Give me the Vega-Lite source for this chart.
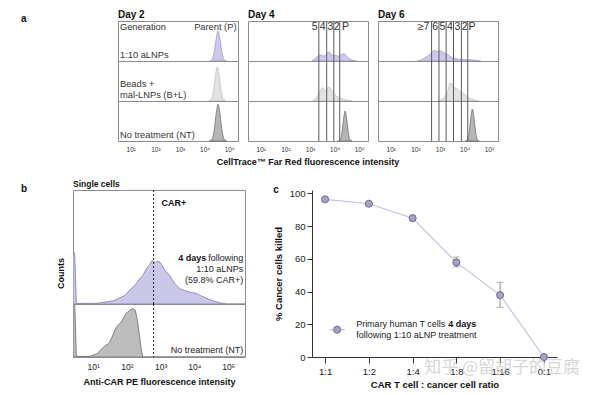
{
  "$schema": "https://vega.github.io/schema/vega-lite/v6.json",
  "padding": {"left": 21, "top": 10, "right": 0, "bottom": 0},
  "background": "white",
  "config": {
    "font": "Liberation Sans",
    "view": {"stroke": "#8c8c8c", "strokeWidth": 1},
    "axis": {"labelColor": "#222", "titleColor": "#111", "domainColor": "#333", "tickColor": "#333", "grid": false, "labelOverlap": false},
    "title": {"color": "#111"},
    "header": {"labelFont": "Liberation Sans", "titleFont": "Liberation Sans"}
  },
  "datasets": {
    "gen": [
      {"day":"Day 2","trt":"aLNP","kind":"hist","v":4.20,"n":0},
      {"day":"Day 2","trt":"aLNP","kind":"hist","v":4.31,"n":0.04},
      {"day":"Day 2","trt":"aLNP","kind":"hist","v":4.39,"n":0.21},
      {"day":"Day 2","trt":"aLNP","kind":"hist","v":4.47,"n":0.54},
      {"day":"Day 2","trt":"aLNP","kind":"hist","v":4.55,"n":0.75},
      {"day":"Day 2","trt":"aLNP","kind":"hist","v":4.63,"n":0.54},
      {"day":"Day 2","trt":"aLNP","kind":"hist","v":4.71,"n":0.21},
      {"day":"Day 2","trt":"aLNP","kind":"hist","v":4.79,"n":0.04},
      {"day":"Day 2","trt":"aLNP","kind":"hist","v":4.90,"n":0},
      {"day":"Day 2","trt":"Beads","kind":"hist","v":4.17,"n":0},
      {"day":"Day 2","trt":"Beads","kind":"hist","v":4.28,"n":0.05},
      {"day":"Day 2","trt":"Beads","kind":"hist","v":4.36,"n":0.24},
      {"day":"Day 2","trt":"Beads","kind":"hist","v":4.44,"n":0.62},
      {"day":"Day 2","trt":"Beads","kind":"hist","v":4.52,"n":0.85},
      {"day":"Day 2","trt":"Beads","kind":"hist","v":4.60,"n":0.62},
      {"day":"Day 2","trt":"Beads","kind":"hist","v":4.68,"n":0.24},
      {"day":"Day 2","trt":"Beads","kind":"hist","v":4.76,"n":0.05},
      {"day":"Day 2","trt":"Beads","kind":"hist","v":4.87,"n":0},
      {"day":"Day 2","trt":"NT","kind":"hist","v":4.20,"n":0},
      {"day":"Day 2","trt":"NT","kind":"hist","v":4.31,"n":0.05},
      {"day":"Day 2","trt":"NT","kind":"hist","v":4.39,"n":0.26},
      {"day":"Day 2","trt":"NT","kind":"hist","v":4.47,"n":0.67},
      {"day":"Day 2","trt":"NT","kind":"hist","v":4.55,"n":0.92},
      {"day":"Day 2","trt":"NT","kind":"hist","v":4.63,"n":0.67},
      {"day":"Day 2","trt":"NT","kind":"hist","v":4.71,"n":0.26},
      {"day":"Day 2","trt":"NT","kind":"hist","v":4.79,"n":0.05},
      {"day":"Day 2","trt":"NT","kind":"hist","v":4.90,"n":0},
      {"day":"Day 4","trt":"aLNP","kind":"hist","v":3.08,"n":0},
      {"day":"Day 4","trt":"aLNP","kind":"hist","v":3.22,"n":0.07},
      {"day":"Day 4","trt":"aLNP","kind":"hist","v":3.34,"n":0.13},
      {"day":"Day 4","trt":"aLNP","kind":"hist","v":3.44,"n":0.15},
      {"day":"Day 4","trt":"aLNP","kind":"hist","v":3.58,"n":0.12},
      {"day":"Day 4","trt":"aLNP","kind":"hist","v":3.72,"n":0.21},
      {"day":"Day 4","trt":"aLNP","kind":"hist","v":3.79,"n":0.22},
      {"day":"Day 4","trt":"aLNP","kind":"hist","v":3.92,"n":0.14},
      {"day":"Day 4","trt":"aLNP","kind":"hist","v":4.04,"n":0.14},
      {"day":"Day 4","trt":"aLNP","kind":"hist","v":4.14,"n":0.12},
      {"day":"Day 4","trt":"aLNP","kind":"hist","v":4.28,"n":0.16},
      {"day":"Day 4","trt":"aLNP","kind":"hist","v":4.38,"n":0.18},
      {"day":"Day 4","trt":"aLNP","kind":"hist","v":4.52,"n":0.10},
      {"day":"Day 4","trt":"aLNP","kind":"hist","v":4.68,"n":0.03},
      {"day":"Day 4","trt":"aLNP","kind":"hist","v":4.90,"n":0},
      {"day":"Day 4","trt":"Beads","kind":"hist","v":3.10,"n":0},
      {"day":"Day 4","trt":"Beads","kind":"hist","v":3.28,"n":0.10},
      {"day":"Day 4","trt":"Beads","kind":"hist","v":3.44,"n":0.29},
      {"day":"Day 4","trt":"Beads","kind":"hist","v":3.53,"n":0.33},
      {"day":"Day 4","trt":"Beads","kind":"hist","v":3.64,"n":0.25},
      {"day":"Day 4","trt":"Beads","kind":"hist","v":3.76,"n":0.35},
      {"day":"Day 4","trt":"Beads","kind":"hist","v":3.90,"n":0.25},
      {"day":"Day 4","trt":"Beads","kind":"hist","v":4.04,"n":0.14},
      {"day":"Day 4","trt":"Beads","kind":"hist","v":4.25,"n":0.07},
      {"day":"Day 4","trt":"Beads","kind":"hist","v":4.50,"n":0.02},
      {"day":"Day 4","trt":"Beads","kind":"hist","v":4.72,"n":0},
      {"day":"Day 4","trt":"NT","kind":"hist","v":4.15,"n":0},
      {"day":"Day 4","trt":"NT","kind":"hist","v":4.24,"n":0.04},
      {"day":"Day 4","trt":"NT","kind":"hist","v":4.30,"n":0.21},
      {"day":"Day 4","trt":"NT","kind":"hist","v":4.365,"n":0.54},
      {"day":"Day 4","trt":"NT","kind":"hist","v":4.43,"n":0.75},
      {"day":"Day 4","trt":"NT","kind":"hist","v":4.495,"n":0.54},
      {"day":"Day 4","trt":"NT","kind":"hist","v":4.56,"n":0.21},
      {"day":"Day 4","trt":"NT","kind":"hist","v":4.62,"n":0.04},
      {"day":"Day 4","trt":"NT","kind":"hist","v":4.71,"n":0},
      {"day":"Day 6","trt":"aLNP","kind":"hist","v":2.08,"n":0},
      {"day":"Day 6","trt":"aLNP","kind":"hist","v":2.28,"n":0.04},
      {"day":"Day 6","trt":"aLNP","kind":"hist","v":2.49,"n":0.12},
      {"day":"Day 6","trt":"aLNP","kind":"hist","v":2.62,"n":0.18},
      {"day":"Day 6","trt":"aLNP","kind":"hist","v":2.76,"n":0.27},
      {"day":"Day 6","trt":"aLNP","kind":"hist","v":2.90,"n":0.23},
      {"day":"Day 6","trt":"aLNP","kind":"hist","v":3.03,"n":0.25},
      {"day":"Day 6","trt":"aLNP","kind":"hist","v":3.17,"n":0.20},
      {"day":"Day 6","trt":"aLNP","kind":"hist","v":3.33,"n":0.15},
      {"day":"Day 6","trt":"aLNP","kind":"hist","v":3.51,"n":0.08},
      {"day":"Day 6","trt":"aLNP","kind":"hist","v":3.71,"n":0.05},
      {"day":"Day 6","trt":"aLNP","kind":"hist","v":3.98,"n":0.035},
      {"day":"Day 6","trt":"aLNP","kind":"hist","v":4.32,"n":0.025},
      {"day":"Day 6","trt":"aLNP","kind":"hist","v":4.66,"n":0},
      {"day":"Day 6","trt":"Beads","kind":"hist","v":2.90,"n":0},
      {"day":"Day 6","trt":"Beads","kind":"hist","v":3.17,"n":0.08},
      {"day":"Day 6","trt":"Beads","kind":"hist","v":3.30,"n":0.23},
      {"day":"Day 6","trt":"Beads","kind":"hist","v":3.44,"n":0.46},
      {"day":"Day 6","trt":"Beads","kind":"hist","v":3.55,"n":0.33},
      {"day":"Day 6","trt":"Beads","kind":"hist","v":3.67,"n":0.32},
      {"day":"Day 6","trt":"Beads","kind":"hist","v":3.80,"n":0.25},
      {"day":"Day 6","trt":"Beads","kind":"hist","v":3.98,"n":0.17},
      {"day":"Day 6","trt":"Beads","kind":"hist","v":4.18,"n":0.08},
      {"day":"Day 6","trt":"Beads","kind":"hist","v":4.38,"n":0.03},
      {"day":"Day 6","trt":"Beads","kind":"hist","v":4.58,"n":0},
      {"day":"Day 6","trt":"NT","kind":"hist","v":4.04,"n":0},
      {"day":"Day 6","trt":"NT","kind":"hist","v":4.13,"n":0.045},
      {"day":"Day 6","trt":"NT","kind":"hist","v":4.19,"n":0.22},
      {"day":"Day 6","trt":"NT","kind":"hist","v":4.255,"n":0.58},
      {"day":"Day 6","trt":"NT","kind":"hist","v":4.32,"n":0.80},
      {"day":"Day 6","trt":"NT","kind":"hist","v":4.385,"n":0.58},
      {"day":"Day 6","trt":"NT","kind":"hist","v":4.45,"n":0.22},
      {"day":"Day 6","trt":"NT","kind":"hist","v":4.51,"n":0.045},
      {"day":"Day 6","trt":"NT","kind":"hist","v":4.60,"n":0},
      {"day":"Day 4","trt":"aLNP","kind":"gate","v":3.36},
      {"day":"Day 4","trt":"aLNP","kind":"gate","v":3.68},
      {"day":"Day 4","trt":"aLNP","kind":"gate","v":3.97},
      {"day":"Day 4","trt":"aLNP","kind":"gate","v":4.21},
      {"day":"Day 4","trt":"Beads","kind":"gate","v":3.36},
      {"day":"Day 4","trt":"Beads","kind":"gate","v":3.68},
      {"day":"Day 4","trt":"Beads","kind":"gate","v":3.97},
      {"day":"Day 4","trt":"Beads","kind":"gate","v":4.21},
      {"day":"Day 4","trt":"NT","kind":"gate","v":3.36},
      {"day":"Day 4","trt":"NT","kind":"gate","v":3.68},
      {"day":"Day 4","trt":"NT","kind":"gate","v":3.97},
      {"day":"Day 4","trt":"NT","kind":"gate","v":4.21},
      {"day":"Day 6","trt":"aLNP","kind":"gate","v":2.66},
      {"day":"Day 6","trt":"aLNP","kind":"gate","v":2.96},
      {"day":"Day 6","trt":"aLNP","kind":"gate","v":3.25},
      {"day":"Day 6","trt":"aLNP","kind":"gate","v":3.55},
      {"day":"Day 6","trt":"aLNP","kind":"gate","v":3.87},
      {"day":"Day 6","trt":"aLNP","kind":"gate","v":4.13},
      {"day":"Day 6","trt":"Beads","kind":"gate","v":2.66},
      {"day":"Day 6","trt":"Beads","kind":"gate","v":2.96},
      {"day":"Day 6","trt":"Beads","kind":"gate","v":3.25},
      {"day":"Day 6","trt":"Beads","kind":"gate","v":3.55},
      {"day":"Day 6","trt":"Beads","kind":"gate","v":3.87},
      {"day":"Day 6","trt":"Beads","kind":"gate","v":4.13},
      {"day":"Day 6","trt":"NT","kind":"gate","v":2.66},
      {"day":"Day 6","trt":"NT","kind":"gate","v":2.96},
      {"day":"Day 6","trt":"NT","kind":"gate","v":3.25},
      {"day":"Day 6","trt":"NT","kind":"gate","v":3.55},
      {"day":"Day 6","trt":"NT","kind":"gate","v":3.87},
      {"day":"Day 6","trt":"NT","kind":"gate","v":4.13},
      {"day":"Day 4","trt":"aLNP","kind":"gen","v":3.19,"s":"5"},
      {"day":"Day 4","trt":"aLNP","kind":"gen","v":3.52,"s":"4"},
      {"day":"Day 4","trt":"aLNP","kind":"gen","v":3.83,"s":"3"},
      {"day":"Day 4","trt":"aLNP","kind":"gen","v":4.09,"s":"2"},
      {"day":"Day 4","trt":"aLNP","kind":"gen","v":4.44,"s":"P"},
      {"day":"Day 6","trt":"aLNP","kind":"gen","v":2.33,"s":"≥7"},
      {"day":"Day 6","trt":"aLNP","kind":"gen","v":2.81,"s":"6"},
      {"day":"Day 6","trt":"aLNP","kind":"gen","v":3.10,"s":"5"},
      {"day":"Day 6","trt":"aLNP","kind":"gen","v":3.40,"s":"4"},
      {"day":"Day 6","trt":"aLNP","kind":"gen","v":3.71,"s":"3"},
      {"day":"Day 6","trt":"aLNP","kind":"gen","v":4.00,"s":"2"},
      {"day":"Day 6","trt":"aLNP","kind":"gen","v":4.30,"s":"P"},
      {"day":"Day 2","trt":"aLNP","kind":"note","s":"Generation"},
      {"day":"Day 2","trt":"aLNP","kind":"note","s":"Parent (P)"},
      {"day":"Day 2","trt":"aLNP","kind":"note","s":"1:10 aLNPs"},
      {"day":"Day 2","trt":"Beads","kind":"note","s":"Beads +\nmal-LNPs (B+L)"},
      {"day":"Day 2","trt":"NT","kind":"note","s":"No treatment (NT)"}
    ],
    "car": [
      {"sample":"1:10 aLNPs","lx":0.40,"count":1178},
      {"sample":"1:10 aLNPs","lx":0.45,"count":1178},
      {"sample":"1:10 aLNPs","lx":0.50,"count":12},
      {"sample":"1:10 aLNPs","lx":1.11,"count":16},
      {"sample":"1:10 aLNPs","lx":1.61,"count":76},
      {"sample":"1:10 aLNPs","lx":1.92,"count":192},
      {"sample":"1:10 aLNPs","lx":2.12,"count":347},
      {"sample":"1:10 aLNPs","lx":2.27,"count":462},
      {"sample":"1:10 aLNPs","lx":2.37,"count":578},
      {"sample":"1:10 aLNPs","lx":2.47,"count":654},
      {"sample":"1:10 aLNPs","lx":2.57,"count":809},
      {"sample":"1:10 aLNPs","lx":2.67,"count":908},
      {"sample":"1:10 aLNPs","lx":2.74,"count":1000},
      {"sample":"1:10 aLNPs","lx":2.84,"count":963},
      {"sample":"1:10 aLNPs","lx":2.95,"count":986},
      {"sample":"1:10 aLNPs","lx":3.03,"count":908},
      {"sample":"1:10 aLNPs","lx":3.13,"count":769},
      {"sample":"1:10 aLNPs","lx":3.23,"count":693},
      {"sample":"1:10 aLNPs","lx":3.33,"count":578},
      {"sample":"1:10 aLNPs","lx":3.43,"count":462},
      {"sample":"1:10 aLNPs","lx":3.58,"count":347},
      {"sample":"1:10 aLNPs","lx":3.73,"count":307},
      {"sample":"1:10 aLNPs","lx":3.88,"count":270},
      {"sample":"1:10 aLNPs","lx":4.04,"count":247},
      {"sample":"1:10 aLNPs","lx":4.19,"count":192},
      {"sample":"1:10 aLNPs","lx":4.34,"count":139},
      {"sample":"1:10 aLNPs","lx":4.54,"count":76},
      {"sample":"1:10 aLNPs","lx":4.74,"count":30},
      {"sample":"1:10 aLNPs","lx":4.95,"count":0},
      {"sample":"1:10 aLNPs","lx":5.50,"count":0},
      {"sample":"NT","lx":0.40,"count":1300},
      {"sample":"NT","lx":0.45,"count":1300},
      {"sample":"NT","lx":0.50,"count":10},
      {"sample":"NT","lx":0.91,"count":16},
      {"sample":"NT","lx":1.11,"count":76},
      {"sample":"NT","lx":1.26,"count":192},
      {"sample":"NT","lx":1.36,"count":270},
      {"sample":"NT","lx":1.46,"count":307},
      {"sample":"NT","lx":1.56,"count":462},
      {"sample":"NT","lx":1.66,"count":654},
      {"sample":"NT","lx":1.73,"count":732},
      {"sample":"NT","lx":1.81,"count":792},
      {"sample":"NT","lx":1.89,"count":885},
      {"sample":"NT","lx":1.97,"count":1000},
      {"sample":"NT","lx":2.04,"count":1056},
      {"sample":"NT","lx":2.12,"count":1102},
      {"sample":"NT","lx":2.19,"count":1116},
      {"sample":"NT","lx":2.25,"count":1079},
      {"sample":"NT","lx":2.30,"count":885},
      {"sample":"NT","lx":2.37,"count":501},
      {"sample":"NT","lx":2.42,"count":192},
      {"sample":"NT","lx":2.47,"count":0},
      {"sample":"NT","lx":5.50,"count":0}
    ],
    "kill": [
      {"ratio":"1:1","pct":96.3,"lo":95.8,"hi":96.8},
      {"ratio":"1:2","pct":93.6,"lo":93.1,"hi":94.1},
      {"ratio":"1:4","pct":84.8,"lo":84.3,"hi":85.3},
      {"ratio":"1:8","pct":57.8,"lo":55,"hi":61},
      {"ratio":"1:16","pct":37.8,"lo":30.4,"hi":45.6},
      {"ratio":"0:1","pct":0,"lo":0,"hi":0.3}
    ]
  },
  "columns": 1,
  "spacing": 12,
  "concat": [
    {
      "spacing": 90,
      "hconcat": [
        {
          "width": 2, "height": 2,
          "view": {"stroke": null},
          "data": {"values": [{}]},
          "mark": {"type": "text", "text": ""},
          "title": {"text": "a", "anchor": "start", "fontSize": 10, "fontWeight": "bold", "offset": 0, "dy": 8}
        },
        {
          "data": {"name": "gen"},
          "bounds": "flush",
          "facet": {
            "column": {"field": "day", "type": "nominal", "title": "CellTrace™ Far Red fluorescence intensity",
              "header": {"labelOrient": "top", "labelAnchor": "start", "labelFontSize": 10, "labelFontWeight": "bold", "labelColor": "#111", "labelPadding": 1,
                         "titleOrient": "bottom", "titleFontSize": 9, "titleFontWeight": "bold", "titleColor": "#111", "titlePadding": -5}},
            "row": {"field": "trt", "type": "nominal", "sort": ["aLNP", "Beads", "NT"], "title": null,
              "header": {"labels": false}}
          },
          "spacing": {"row": 0, "column": 10},
          "spec": {
            "width": 120,
            "height": 40,
            "layer": [
              {
                "transform": [{"filter": "datum.kind === 'hist'"}],
                "mark": {"type": "area", "interpolate": "monotone", "strokeWidth": 0.8},
                "encoding": {
                  "x": {"field": "v", "type": "quantitative", "title": null,
                        "scale": {"domain": [0.48, 5.36], "nice": false, "zero": false},
                        "axis": {"values": [1, 2, 3, 4, 5], "tickCount": 10, "labelExpr": "'10' + ['⁰','¹','²','³','⁴','⁵'][datum.value]", "labelFontSize": 6.5, "labelColor": "#333", "ticks": false, "domain": false, "labelPadding": 5, "title": null}},
                  "y": {"field": "n", "type": "quantitative", "scale": {"domain": [0, 1], "nice": false}, "axis": null},
                  "fill": {"field": "trt", "type": "nominal", "scale": {"domain": ["aLNP", "Beads", "NT"], "range": ["#cdc9ea", "#e2e2e2", "#b5b5b5"]}, "legend": null},
                  "stroke": {"field": "trt", "type": "nominal", "scale": {"domain": ["aLNP", "Beads", "NT"], "range": ["#a29ccc", "#c2c2c2", "#707070"]}, "legend": null}
                }
              },
              {
                "transform": [{"filter": "datum.kind === 'gate'"}],
                "mark": {"type": "rule", "color": "#5a5a5a", "strokeWidth": 1},
                "encoding": {"x": {"field": "v", "type": "quantitative", "title": null}}
              },
              {
                "transform": [{"filter": "datum.kind === 'gen'"}],
                "mark": {"type": "text", "fontSize": 10.5, "color": "#333", "baseline": "middle"},
                "encoding": {"x": {"field": "v", "type": "quantitative", "title": null}, "y": {"datum": 0.85}, "text": {"field": "s"}}
              },
              {
                "transform": [{"filter": "datum.s === 'Generation'"}],
                "mark": {"type": "text", "fontSize": 9.3, "color": "#333", "align": "left", "baseline": "middle"},
                "encoding": {"x": {"datum": 0.56}, "y": {"datum": 0.85}, "text": {"field": "s"}}
              },
              {
                "transform": [{"filter": "datum.s === 'Parent (P)'"}],
                "mark": {"type": "text", "fontSize": 9.3, "color": "#333", "align": "right", "baseline": "middle"},
                "encoding": {"x": {"datum": 5.3}, "y": {"datum": 0.85}, "text": {"field": "s"}}
              },
              {
                "transform": [{"filter": "datum.s === '1:10 aLNPs' || datum.s === 'No treatment (NT)'"}],
                "mark": {"type": "text", "fontSize": 9.3, "color": "#333", "align": "left", "baseline": "middle"},
                "encoding": {"x": {"datum": 0.56}, "y": {"datum": 0.16}, "text": {"field": "s"}}
              },
              {
                "transform": [{"filter": "datum.trt === 'Beads' && datum.kind === 'note'"}],
                "mark": {"type": "text", "fontSize": 9.3, "color": "#333", "align": "left", "baseline": "middle", "lineBreak": "\n", "lineHeight": 11},
                "encoding": {"x": {"datum": 0.56}, "y": {"datum": 0.43}, "text": {"field": "s"}}
              }
            ]
          }
        }
      ]
    },
    {
      "spacing": 27,
      "hconcat": [
        {
          "width": 2, "height": 2,
          "view": {"stroke": null},
          "data": {"values": [{}]},
          "mark": {"type": "text", "text": ""},
          "title": {"text": "b", "anchor": "start", "fontSize": 10, "fontWeight": "bold", "offset": 0, "dy": 9}
        },
        {
          "spacing": 0,
          "bounds": "flush",
          "vconcat": [
            {
              "width": 172,
              "height": 114,
              "title": {"text": "Single cells", "anchor": "start", "frame": "group", "fontSize": 8.5, "fontWeight": "bold", "offset": 3, "dy": 2},
              "layer": [
                {
                  "data": {"name": "car"},
                  "transform": [{"filter": "datum.sample === '1:10 aLNPs'"}],
                  "mark": {"type": "area", "fill": "#cbc7e8", "stroke": "#7f7aa8", "strokeWidth": 0.8, "clip": true},
                  "encoding": {
                    "x": {"field": "lx", "type": "quantitative", "scale": {"domain": [0.4, 5.5], "nice": false, "zero": false}, "axis": null},
                    "y": {"field": "count", "type": "quantitative", "scale": {"domain": [0, 2630], "nice": false},
                          "axis": {"title": "Counts", "labels": false, "ticks": false, "domain": false, "titleY": 83, "titlePadding": 8, "titleFontSize": 9, "titleFontWeight": "bold"}}
                  }
                },
                {
                  "data": {"values": [{}]},
                  "mark": {"type": "rule", "strokeDash": [2, 2], "color": "#222", "strokeWidth": 1},
                  "encoding": {"x": {"datum": 2.79}}
                },
                {
                  "data": {"values": [{}]},
                  "mark": {"type": "text", "text": "CAR+", "align": "left", "baseline": "middle", "fontSize": 9, "fontWeight": "bold", "dx": 8, "color": "#111"},
                  "encoding": {"x": {"datum": 2.79}, "y": {"datum": 2330}}
                },
                {
                  "data": {"values": [{}]},
                  "mark": {"type": "text", "text": ["following", "1:10 aLNPs", "(59.8% CAR+)"], "align": "right", "baseline": "top", "fontSize": 9, "lineHeight": 11, "color": "#222"},
                  "encoding": {"x": {"datum": 5.45}, "y": {"datum": 1165}}
                },
                {
                  "data": {"values": [{}]},
                  "mark": {"type": "text", "text": "4 days", "align": "right", "baseline": "top", "fontSize": 9, "fontWeight": "bold", "dx": -37, "color": "#111"},
                  "encoding": {"x": {"datum": 5.45}, "y": {"datum": 1165}}
                }
              ]
            },
            {
              "width": 172,
              "height": 53,
              "layer": [
                {
                  "data": {"name": "car"},
                  "transform": [{"filter": "datum.sample === 'NT'"}],
                  "mark": {"type": "area", "fill": "#bdbdbd", "stroke": "#6b6b6b", "strokeWidth": 0.8, "clip": true},
                  "encoding": {
                    "x": {"field": "lx", "type": "quantitative", "scale": {"domain": [0.4, 5.5], "nice": false, "zero": false},
                          "axis": {"values": [1, 2, 3, 4, 5], "tickCount": 10, "labelExpr": "'10' + ['⁰','¹','²','³','⁴','⁵'][datum.value]", "labelFontSize": 8.5, "ticks": false, "domain": false, "labelPadding": 5,
                                   "title": "Anti-CAR PE fluorescence intensity", "titleFontSize": 9, "titleFontWeight": "bold", "titlePadding": 7}},
                    "y": {"field": "count", "type": "quantitative", "scale": {"domain": [0, 1225], "nice": false}, "axis": null}
                  }
                },
                {
                  "data": {"values": [{}]},
                  "mark": {"type": "rule", "strokeDash": [2, 2], "color": "#222", "strokeWidth": 1},
                  "encoding": {"x": {"datum": 2.79}}
                },
                {
                  "data": {"values": [{}]},
                  "mark": {"type": "text", "text": "No treatment (NT)", "align": "right", "baseline": "bottom", "fontSize": 9, "color": "#222"},
                  "encoding": {"x": {"datum": 5.45}, "y": {"datum": 40}}
                }
              ]
            }
          ]
        },
        {
          "width": 245,
          "height": 167,
          "title": {"text": "c", "anchor": "start", "frame": "bounds", "fontSize": 10, "fontWeight": "bold", "offset": 0, "dy": 7},
          "view": {"stroke": null},
          "layer": [
            {
              "data": {"name": "kill"},
              "mark": {"type": "line", "color": "#c2c1d9", "strokeWidth": 1.2},
              "encoding": {
                "x": {"field": "ratio", "type": "ordinal", "sort": ["1:1", "1:2", "1:4", "1:8", "1:16", "0:1"], "scale": {"type": "point", "padding": 0.3}, "title": "CAR T cell : cancer cell ratio",
                      "axis": {"labelAngle": 0, "labelFontSize": 9.5, "tickSize": 6, "labelPadding": 3, "titleFontSize": 9.5, "titleFontWeight": "bold", "titlePadding": 4}},
                "y": {"field": "pct", "type": "quantitative", "scale": {"domain": [0, 102], "nice": false}, "title": "% Cancer cells killed",
                      "axis": {"values": [0, 20, 40, 60, 80, 100], "tickCount": 10, "labelOverlap": false, "tickSize": 5, "labelFontSize": 9.5, "labelPadding": 2, "titleFontSize": 9.5, "titleFontWeight": "bold", "titlePadding": 6}}
              }
            },
            {
              "data": {"name": "kill"},
              "mark": {"type": "errorbar", "ticks": {"size": 7}, "color": "#8f8f8f"},
              "encoding": {
                "x": {"field": "ratio", "type": "ordinal", "sort": ["1:1", "1:2", "1:4", "1:8", "1:16", "0:1"], "title": "CAR T cell : cancer cell ratio"},
                "y": {"field": "hi", "type": "quantitative", "title": "% Cancer cells killed"},
                "y2": {"field": "lo"}
              }
            },
            {
              "data": {"name": "kill"},
              "mark": {"type": "circle", "size": 50, "fill": "#a3a2c8", "stroke": "#6d6b96", "strokeWidth": 1, "opacity": 1},
              "encoding": {
                "x": {"field": "ratio", "type": "ordinal", "sort": ["1:1", "1:2", "1:4", "1:8", "1:16", "0:1"], "title": "CAR T cell : cancer cell ratio"},
                "y": {"field": "pct", "type": "quantitative", "title": "% Cancer cells killed"}
              }
            },
            {
              "data": {"values": [{}]},
              "mark": {"type": "rule", "color": "#c2c1d9", "strokeWidth": 1.2, "xOffset": 4, "x2Offset": 20},
              "encoding": {"x": {"datum": "1:1"}, "x2": {"datum": "1:1"}, "y": {"datum": 16.7}}
            },
            {
              "data": {"values": [{}]},
              "mark": {"type": "circle", "size": 50, "fill": "#a3a2c8", "stroke": "#6d6b96", "strokeWidth": 1, "opacity": 1, "xOffset": 12},
              "encoding": {"x": {"datum": "1:1"}, "y": {"datum": 16.7}}
            },
            {
              "data": {"values": [{}]},
              "mark": {"type": "text", "text": "Primary human T cells", "align": "left", "baseline": "middle", "fontSize": 9, "dx": 31, "color": "#222"},
              "encoding": {"x": {"datum": "1:1"}, "y": {"datum": 19.9}}
            },
            {
              "data": {"values": [{}]},
              "mark": {"type": "text", "text": "4 days", "align": "left", "baseline": "middle", "fontSize": 9, "fontWeight": "bold", "dx": 123, "color": "#111"},
              "encoding": {"x": {"datum": "1:1"}, "y": {"datum": 19.9}}
            },
            {
              "data": {"values": [{}]},
              "mark": {"type": "text", "text": "following 1:10 aLNP treatment", "align": "left", "baseline": "middle", "fontSize": 9, "dx": 31, "color": "#222"},
              "encoding": {"x": {"datum": "1:1"}, "y": {"datum": 13.3}}
            },
            {
              "data": {"values": [{}]},
              "mark": {"type": "text", "text": "知乎 @留胡子的豆腐", "align": "center", "baseline": "middle", "fontSize": 17, "font": "Noto Sans CJK SC", "dx": 2, "dy": 11, "color": "#c9c9c9", "opacity": 0.75},
              "encoding": {"x": {"datum": "1:16"}, "y": {"datum": 0}}
            }
          ]
        }
      ]
    }
  ]
}
